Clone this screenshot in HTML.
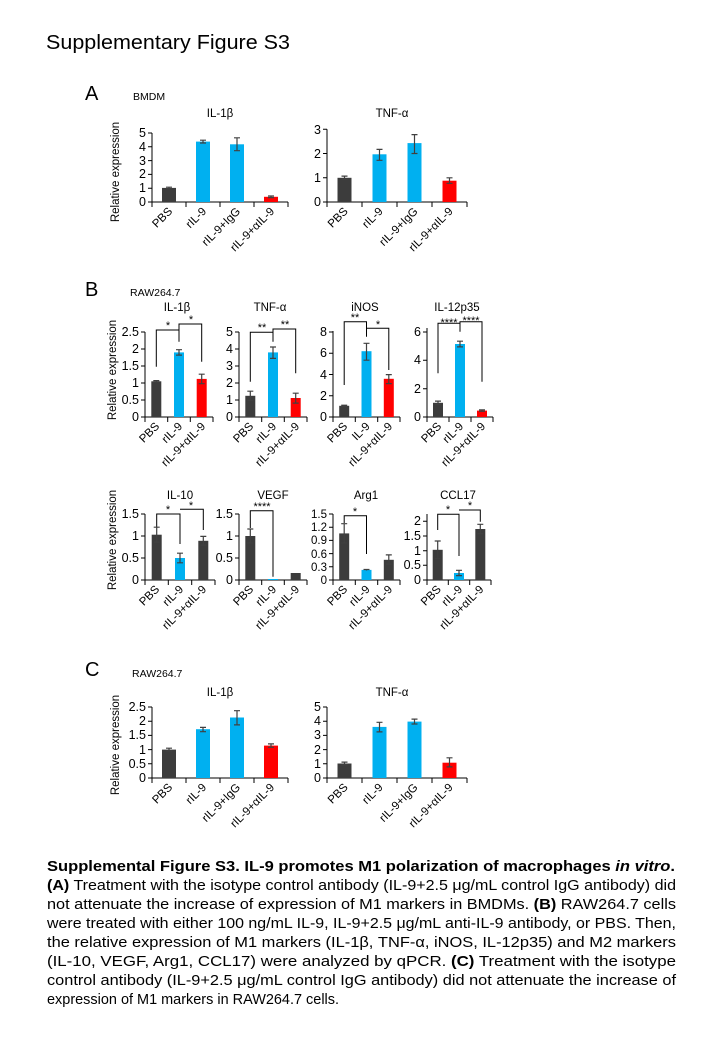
<!DOCTYPE html>
<html><head><meta charset="utf-8"><style>
body{margin:0;background:#fff;width:720px;height:1040px;position:relative;overflow:hidden}
svg{position:absolute;left:0;top:0}
text{font-family:"Liberation Sans",Arial,sans-serif;fill:#000}
.t{font-size:12px}.k{font-size:12.5px;text-anchor:end}.c{font-size:11.5px;text-anchor:end}
.h{font-size:11.5px;text-anchor:middle}.s{font-size:11px;text-anchor:middle}
.ax{stroke:#000;stroke-width:1;fill:none}.e{stroke:#404040;stroke-width:1.2;fill:none}
.br{stroke:#000;stroke-width:1;fill:none}
.d{fill:#3c3c3c}.b{fill:#00b0f0}.r{fill:#ff0000}
.cp{font-size:15px}
</style></head><body>
<svg width="720" height="1040" viewBox="0 0 720 1040">
<text x="46" y="49" style="font-size:20px" textLength="244" lengthAdjust="spacingAndGlyphs">Supplementary Figure S3</text>
<!-- A -->
<text x="85" y="100" style="font-size:20px">A</text>
<text x="133" y="100" style="font-size:10.5px">BMDM</text>
<text x="220" y="117" class="h">IL-1β</text>
<text x="392" y="117" class="h">TNF-α</text>
<text class="h" transform="translate(119,172) rotate(-90)">Relative expression</text>
<path class="ax" d="M152,133V202H288M148,202h4M148,188.2h4M148,174.4h4M148,160.6h4M148,146.8h4M148,133h4M152,202v5M186,202v5M220,202v5M254,202v5M288,202v5"/>
<text class="k" x="146" y="206">0</text><text class="k" x="146" y="192">1</text><text class="k" x="146" y="178">2</text><text class="k" x="146" y="165">3</text><text class="k" x="146" y="151">4</text><text class="k" x="146" y="137">5</text>
<rect class="d" x="162" y="187.9" width="14" height="14.1"/><rect class="b" x="196" y="141.6" width="14" height="60.4"/><rect class="b" x="230" y="144.3" width="14" height="57.7"/><rect class="r" x="264" y="196.8" width="14" height="5.2"/>
<path class="e" d="M169,187.2v1.4M166,187.2h6M166,188.6h6M203,140.2v2.8M200,140.2h6M200,143h6M237,137.8v12.9M234,137.8h6M234,150.7h6M271,196v1.6M268,196h6M268,197.6h6"/>
<g class="c"><text transform="translate(173,212) rotate(-45)">PBS</text><text transform="translate(207,212) rotate(-45)">rIL-9</text><text transform="translate(241,212) rotate(-45)">rIL-9+IgG</text><text transform="translate(275,212) rotate(-45)">rIL-9+αIL-9</text></g>
<path class="ax" d="M327,129.3V202H467M323,202h4M323,177.8h4M323,153.5h4M323,129.3h4M327,202v5M362,202v5M397,202v5M432,202v5M467,202v5"/>
<text class="k" x="321" y="206">0</text><text class="k" x="321" y="182">1</text><text class="k" x="321" y="158">2</text><text class="k" x="321" y="134">3</text>
<rect class="d" x="337.5" y="177.8" width="14" height="24.2"/><rect class="b" x="372.5" y="154.3" width="14" height="47.7"/><rect class="b" x="407.5" y="143.1" width="14" height="58.9"/><rect class="r" x="442.5" y="180.7" width="14" height="21.3"/>
<path class="e" d="M344.5,176.1v3.4M341.5,176.1h6M341.5,179.5h6M379.5,149.4v10.9M376.5,149.4h6M376.5,160.3h6M414.5,134.6v18.9M411.5,134.6h6M411.5,153.5h6M449.5,177.8v5.5M446.5,177.8h6M446.5,183.3h6"/>
<g class="c"><text transform="translate(348.5,212) rotate(-45)">PBS</text><text transform="translate(383.5,212) rotate(-45)">rIL-9</text><text transform="translate(418.5,212) rotate(-45)">rIL-9+IgG</text><text transform="translate(453.5,212) rotate(-45)">rIL-9+αIL-9</text></g>
<!-- B -->
<text x="85" y="296" style="font-size:20px">B</text>
<text x="130" y="296" style="font-size:10.5px">RAW264.7</text>
<text x="177" y="311" class="h">IL-1β</text><text x="270" y="311" class="h">TNF-α</text><text x="365" y="311" class="h">iNOS</text><text x="457" y="311" class="h">IL-12p35</text>
<text class="h" transform="translate(116,370) rotate(-90)">Relative expression</text>
<!-- B1 -->
<path class="ax" d="M145,332V417H213M141,417h4M141,400h4M141,383h4M141,366h4M141,349h4M141,332h4M145,417v5M167.7,417v5M190.3,417v5M213,417v5"/>
<g class="k"><text x="139" y="421">0</text><text x="139" y="404">0.5</text><text x="139" y="387">1</text><text x="139" y="370">1.5</text><text x="139" y="353">2</text><text x="139" y="336">2.5</text></g>
<rect class="d" x="151.3" y="381.3" width="10" height="35.7"/><rect class="b" x="174" y="352.4" width="10" height="64.6"/><rect class="r" x="196.7" y="378.9" width="10" height="38.1"/>
<path class="e" d="M156.3,380.6v1.4M153.3,380.6h6M153.3,382h6M179,349.7v5.4M176,349.7h6M176,355.1h6M201.7,374.2v9.5M198.7,374.2h6M198.7,383.7h6"/>
<path class="br" d="M156.3,366.7V330H179V341.7M179,330V324H201.7V361.7"/>
<text class="s" x="168" y="329">*</text><text class="s" x="191" y="323">*</text>
<g class="c"><text transform="translate(160,427) rotate(-45)">PBS</text><text transform="translate(183,427) rotate(-45)">rIL-9</text><text transform="translate(206,427) rotate(-45)">rIL-9+αIL-9</text></g>
<!-- B2 -->
<path class="ax" d="M239,332V417H307M235,417h4M235,400h4M235,383h4M235,366h4M235,349h4M235,332h4M239,417v5M261.7,417v5M284.3,417v5M307,417v5"/>
<g class="k"><text x="233" y="421">0</text><text x="233" y="404">1</text><text x="233" y="387">2</text><text x="233" y="370">3</text><text x="233" y="353">4</text><text x="233" y="336">5</text></g>
<rect class="d" x="245.3" y="395.8" width="10" height="21.2"/><rect class="b" x="268" y="352.4" width="10" height="64.6"/><rect class="r" x="290.7" y="398" width="10" height="19"/>
<path class="e" d="M250.3,391.2v9.1M247.3,391.2h6M247.3,400.3h6M273,347v11.4M270,347h6M270,358.4h6M295.7,393.2v9.9M292.7,393.2h6M292.7,403.1h6"/>
<path class="br" d="M250.3,381.7V332.3H273V341.7M273,332.3V329H295.7V373.3"/>
<text class="s" x="262" y="331">**</text><text class="s" x="285" y="328">**</text>
<g class="c"><text transform="translate(254,427) rotate(-45)">PBS</text><text transform="translate(277,427) rotate(-45)">rIL-9</text><text transform="translate(300,427) rotate(-45)">rIL-9+αIL-9</text></g>
<!-- B3 -->
<path class="ax" d="M333,331V417H400M329,417h4M329,395.8h4M329,374.5h4M329,353.3h4M329,332h4M333,417v5M355.3,417v5M377.7,417v5M400,417v5"/>
<g class="k"><text x="327" y="421">0</text><text x="327" y="400">2</text><text x="327" y="379">4</text><text x="327" y="357">6</text><text x="327" y="336">8</text></g>
<rect class="d" x="339.2" y="405.8" width="10" height="11.2"/><rect class="b" x="361.5" y="351.2" width="10" height="65.8"/><rect class="r" x="383.8" y="378.8" width="10" height="38.2"/>
<path class="e" d="M344.2,405.2v1.2M341.2,405.2h6M341.2,406.4h6M366.5,343.3v16.9M363.5,343.3h6M363.5,360.2h6M388.8,374.6v9M385.8,374.6h6M385.8,383.6h6"/>
<path class="br" d="M344.2,385V321.7H366.5V336.7M366.5,328.3H388.8V370"/>
<text class="s" x="355" y="321">**</text><text class="s" x="378" y="328">*</text>
<g class="c"><text transform="translate(348,427) rotate(-45)">PBS</text><text transform="translate(370.5,427) rotate(-45)">IL-9</text><text transform="translate(393,427) rotate(-45)">rIL-9+αIL-9</text></g>
<!-- B4 -->
<path class="ax" d="M427,328V417H493M423,417h4M423,388.7h4M423,360.3h4M423,332h4M427,417v5M449,417v5M471,417v5M493,417v5"/>
<g class="k"><text x="421" y="421">0</text><text x="421" y="393">2</text><text x="421" y="364">4</text><text x="421" y="336">6</text></g>
<rect class="d" x="433" y="402.8" width="10" height="14.2"/><rect class="b" x="455" y="344" width="10" height="73"/><rect class="r" x="477" y="410.6" width="10" height="6.4"/>
<path class="e" d="M438,401.1v3.4M435,401.1h6M435,404.5h6M460,341.2v5.7M457,341.2h6M457,346.9h6M482,409.9v1.4M479,409.9h6M479,411.3h6"/>
<path class="br" d="M438,373.3V323.3H460V331.7M460,323.3V321.7H482V381.7"/>
<text class="s" x="449" y="326">****</text><text class="s" x="471" y="324">****</text>
<g class="c"><text transform="translate(442,427) rotate(-45)">PBS</text><text transform="translate(464,427) rotate(-45)">rIL-9</text><text transform="translate(486,427) rotate(-45)">rIL-9+αIL-9</text></g>
<!-- row 2 -->
<text x="180" y="499" class="h">IL-10</text><text x="273" y="499" class="h">VEGF</text><text x="366" y="499" class="h">Arg1</text><text x="458" y="499" class="h">CCL17</text>
<text class="h" transform="translate(116,540) rotate(-90)">Relative expression</text>
<!-- IL-10 -->
<path class="ax" d="M145,514V580H215M141,580h4M141,558h4M141,536h4M141,514h4M145,580v5M168.3,580v5M191.7,580v5M215,580v5"/>
<g class="k"><text x="139" y="584">0</text><text x="139" y="562">0.5</text><text x="139" y="540">1</text><text x="139" y="518">1.5</text></g>
<rect class="d" x="151.7" y="534.7" width="10" height="45.3"/><rect class="b" x="175" y="558" width="10" height="22"/><rect class="d" x="198.3" y="540.8" width="10" height="39.2"/>
<path class="e" d="M156.7,527.2v15M153.7,527.2h6M153.7,542.2h6M180,553.2v9.6M177,553.2h6M177,562.8h6M203.3,536.4v8.8M200.3,536.4h6M200.3,545.2h6"/>
<path class="br" d="M156.7,526.7V514H180V544M180,509.3H203.3V530"/>
<text class="s" x="168" y="513">*</text><text class="s" x="191" y="509">*</text>
<g class="c"><text transform="translate(160,590) rotate(-45)">PBS</text><text transform="translate(184,590) rotate(-45)">rIL-9</text><text transform="translate(207,590) rotate(-45)">rIL-9+αIL-9</text></g>
<!-- VEGF -->
<path class="ax" d="M239,514V580H307M235,580h4M235,558h4M235,536h4M235,514h4M239,580v5M261.7,580v5M284.3,580v5M307,580v5"/>
<g class="k"><text x="233" y="584">0</text><text x="233" y="562">0.5</text><text x="233" y="540">1</text><text x="233" y="518">1.5</text></g>
<rect class="d" x="245.3" y="536" width="10" height="44"/><rect class="b" x="268" y="579" width="10" height="1"/><rect class="d" x="290.7" y="573" width="10" height="7"/>
<path class="e" d="M250.3,529v14M247.3,529h6M247.3,543h6"/>
<path class="br" d="M250.3,528V510.7H273V576.7"/>
<text class="s" x="262" y="510">****</text>
<g class="c"><text transform="translate(254,590) rotate(-45)">PBS</text><text transform="translate(277,590) rotate(-45)">rIL-9</text><text transform="translate(300,590) rotate(-45)">rIL-9+αIL-9</text></g>
<!-- Arg1 -->
<path class="ax" d="M333,514V580H400M329,580h4M329,566.8h4M329,553.6h4M329,540.4h4M329,527.2h4M329,514h4M333,580v5M355.3,580v5M377.7,580v5M400,580v5"/>
<g class="k" style="font-size:11.5px"><text x="327" y="584">0</text><text x="327" y="571">0.3</text><text x="327" y="558">0.6</text><text x="327" y="544">0.9</text><text x="327" y="531">1.2</text><text x="327" y="518">1.5</text></g>
<rect class="d" x="339.2" y="533.4" width="10" height="46.6"/><rect class="b" x="361.5" y="569.9" width="10" height="10.1"/><rect class="d" x="383.8" y="559.8" width="10" height="20.2"/>
<path class="e" d="M344.2,523.7v19.3M341.2,523.7h6M341.2,543h6M366.5,569.5v1M363.5,569.5h6M388.8,554.9v9.3M385.8,554.9h6M385.8,564.2h6"/>
<path class="br" d="M344.2,523V515.7H366.5V554"/>
<text class="s" x="355" y="515">*</text>
<g class="c"><text transform="translate(348,590) rotate(-45)">PBS</text><text transform="translate(370.5,590) rotate(-45)">rIL-9</text><text transform="translate(393,590) rotate(-45)">rIL-9+αIL-9</text></g>
<!-- CCL17 -->
<path class="ax" d="M427,514V580H491M423,580h4M423,565.3h4M423,550.7h4M423,536h4M423,521.3h4M427,580v5M448.3,580v5M469.7,580v5M491,580v5"/>
<g class="k"><text x="421" y="584">0</text><text x="421" y="569">0.5</text><text x="421" y="555">1</text><text x="421" y="540">1.5</text><text x="421" y="525">2</text></g>
<rect class="d" x="432.7" y="549.8" width="10" height="30.2"/><rect class="b" x="454" y="573" width="10" height="7"/><rect class="d" x="475.3" y="529" width="10" height="51"/>
<path class="e" d="M437.7,541v17.6M434.7,541h6M434.7,558.6h6M459,570.3v5.3M456,570.3h6M456,575.6h6M480.3,524.3v9.4M477.3,524.3h6M477.3,533.7h6"/>
<path class="br" d="M437.7,530V514.3H459V556M459,510H480.3V521.7"/>
<text class="s" x="448" y="513">*</text><text class="s" x="470" y="509">*</text>
<g class="c"><text transform="translate(441.7,590) rotate(-45)">PBS</text><text transform="translate(463,590) rotate(-45)">rIL-9</text><text transform="translate(484.3,590) rotate(-45)">rIL-9+αIL-9</text></g>
<!-- C -->
<text x="85" y="676" style="font-size:20px">C</text>
<text x="132" y="677" style="font-size:10.5px">RAW264.7</text>
<text x="220" y="696" class="h">IL-1β</text><text x="392" y="696" class="h">TNF-α</text>
<text class="h" transform="translate(119,745) rotate(-90)">Relative expression</text>
<path class="ax" d="M152,707V778H288M148,778h4M148,763.8h4M148,749.6h4M148,735.4h4M148,721.2h4M148,707h4M152,778v5M186,778v5M220,778v5M254,778v5M288,778v5"/>
<g class="k"><text x="146" y="782">0</text><text x="146" y="768">0.5</text><text x="146" y="754">1</text><text x="146" y="739">1.5</text><text x="146" y="725">2</text><text x="146" y="711">2.5</text></g>
<rect class="d" x="162" y="749.6" width="14" height="28.4"/><rect class="b" x="196" y="729.2" width="14" height="48.8"/><rect class="b" x="230" y="717.5" width="14" height="60.5"/><rect class="r" x="264" y="745.6" width="14" height="32.4"/>
<path class="e" d="M169,748.2v2.8M166,748.2h6M166,751h6M203,727.4v4.3M200,727.4h6M200,731.7h6M237,710.7v14.2M234,710.7h6M234,724.9h6M271,743.9v3.4M268,743.9h6M268,747.3h6"/>
<g class="c"><text transform="translate(173,788) rotate(-45)">PBS</text><text transform="translate(207,788) rotate(-45)">rIL-9</text><text transform="translate(241,788) rotate(-45)">rIL-9+IgG</text><text transform="translate(275,788) rotate(-45)">rIL-9+αIL-9</text></g>
<path class="ax" d="M327,707V778H467M323,778h4M323,763.8h4M323,749.6h4M323,735.4h4M323,721.2h4M323,707h4M327,778v5M362,778v5M397,778v5M432,778v5M467,778v5"/>
<g class="k"><text x="321" y="782">0</text><text x="321" y="768">1</text><text x="321" y="754">2</text><text x="321" y="739">3</text><text x="321" y="725">4</text><text x="321" y="711">5</text></g>
<rect class="d" x="337.5" y="763.5" width="14" height="14.5"/><rect class="b" x="372.5" y="726.9" width="14" height="51.1"/><rect class="b" x="407.5" y="721.6" width="14" height="56.4"/><rect class="r" x="442.5" y="762.7" width="14" height="15.3"/>
<path class="e" d="M344.5,762.1v2.8M341.5,762.1h6M341.5,764.9h6M379.5,722.3v9.6M376.5,722.3h6M376.5,731.9h6M414.5,719.1v4.9M411.5,719.1h6M411.5,724h6M449.5,757.8v9.1M446.5,757.8h6M446.5,766.9h6"/>
<g class="c"><text transform="translate(348.5,788) rotate(-45)">PBS</text><text transform="translate(383.5,788) rotate(-45)">rIL-9</text><text transform="translate(418.5,788) rotate(-45)">rIL-9+IgG</text><text transform="translate(453.5,788) rotate(-45)">rIL-9+αIL-9</text></g>
<!-- caption -->
<g class="cp">
<text x="47" y="871" textLength="628" lengthAdjust="spacingAndGlyphs" font-weight="bold">Supplemental Figure S3. IL-9 promotes M1 polarization of macrophages <tspan font-style="italic">in vitro</tspan>.</text>
<text x="47" y="890" textLength="629" lengthAdjust="spacingAndGlyphs"><tspan font-weight="bold">(A)</tspan> Treatment with the isotype control antibody (IL-9+2.5 μg/mL control IgG antibody) did</text>
<text x="47" y="909" textLength="629" lengthAdjust="spacingAndGlyphs">not attenuate the increase of expression of M1 markers in BMDMs. <tspan font-weight="bold">(B)</tspan> RAW264.7 cells</text>
<text x="47" y="928" textLength="629" lengthAdjust="spacingAndGlyphs">were treated with either 100 ng/mL IL-9, IL-9+2.5 μg/mL anti-IL-9 antibody, or PBS. Then,</text>
<text x="47" y="947" textLength="629" lengthAdjust="spacingAndGlyphs">the relative expression of M1 markers (IL-1β, TNF-α, iNOS, IL-12p35) and M2 markers</text>
<text x="47" y="966" textLength="629" lengthAdjust="spacingAndGlyphs">(IL-10, VEGF, Arg1, CCL17) were analyzed by qPCR. <tspan font-weight="bold">(C)</tspan> Treatment with the isotype</text>
<text x="47" y="985" textLength="629" lengthAdjust="spacingAndGlyphs">control antibody (IL-9+2.5 μg/mL control IgG antibody) did not attenuate the increase of</text>
<text x="47" y="1004" textLength="292" lengthAdjust="spacingAndGlyphs">expression of M1 markers in RAW264.7 cells.</text>
</g>
</svg>
</body></html>
